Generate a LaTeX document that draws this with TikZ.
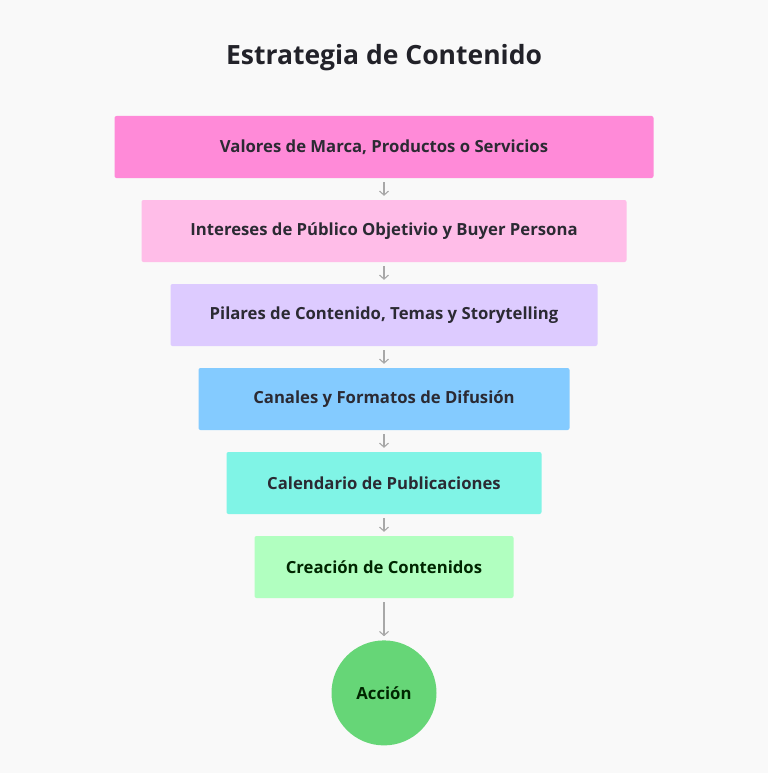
\documentclass[tikz,border=0pt]{standalone}
\usepackage{fontspec}
\setmainfont{Open Sans}
\usetikzlibrary{positioning,arrows.meta}
\definecolor{pageback}{HTML}{F9F9F9}
\definecolor{marca}{HTML}{FF8AD8}
\definecolor{publico}{HTML}{FFBDE8}
\definecolor{pilares}{HTML}{DDCBFF}
\definecolor{canales}{HTML}{84CBFF}
\definecolor{calend}{HTML}{80F4E6}
\definecolor{creacion}{HTML}{B1FFC0}
\definecolor{accion}{HTML}{66D677}
\definecolor{textdark}{HTML}{2B2A33}
\definecolor{flecha}{HTML}{A8A8A8}
\tikzset{
  etapa/.style={rectangle, rounded corners=2pt, minimum height=62pt,
    font=\bfseries\fontsize{16.7}{19}\selectfont, text=textdark, inner sep=0pt},
  paso/.style={draw=flecha, line width=1.1pt, -{Straight Barb[length=4pt,width=9pt]},
    shorten <=4pt, shorten >=4pt}
}
\begin{document}
\begin{tikzpicture}[x=1pt,y=-1pt]
  \fill[pageback] (0,0) rectangle (768,773);
  \useasboundingbox (0,0) rectangle (768,773);

  \node[font=\bfseries\fontsize{26.5}{30}\selectfont, text=textdark!80!black] (T) at (384,58) {Estrategia de Contenido};

  \node[etapa, fill=marca, minimum width=539pt] (V) at (384,147) {Valores de Marca, Productos o Servicios};
  \node[etapa, fill=publico, minimum width=485pt, below=21.6pt of V] (I) {Intereses de Público Objetivio y Buyer Persona};
  \node[etapa, fill=pilares, minimum width=427pt, below=21.6pt of I] (P) {Pilares de Contenido, Temas y Storytelling};
  \node[etapa, fill=canales, minimum width=371pt, below=21.6pt of P] (K) {Canales y Formatos de Difusión};
  \node[etapa, fill=calend, minimum width=315pt, below=21.6pt of K] (L) {Calendario de Publicaciones};
  \node[etapa, fill=creacion, minimum width=259pt, below=21.6pt of L, text=black!85!green] (C) {Creación de Contenidos};
  \node[circle, fill=accion, minimum size=105pt, inner sep=0pt, below=42pt of C,
        font=\bfseries\fontsize{16.7}{19}\selectfont, text=black!85!green] (A) {Acción};

  \draw[paso] (V) -- (I);
  \draw[paso] (I) -- (P);
  \draw[paso] (P) -- (K);
  \draw[paso] (K) -- (L);
  \draw[paso] (L) -- (C);
  \draw[paso] (C) -- (A);
\end{tikzpicture}
\end{document}
